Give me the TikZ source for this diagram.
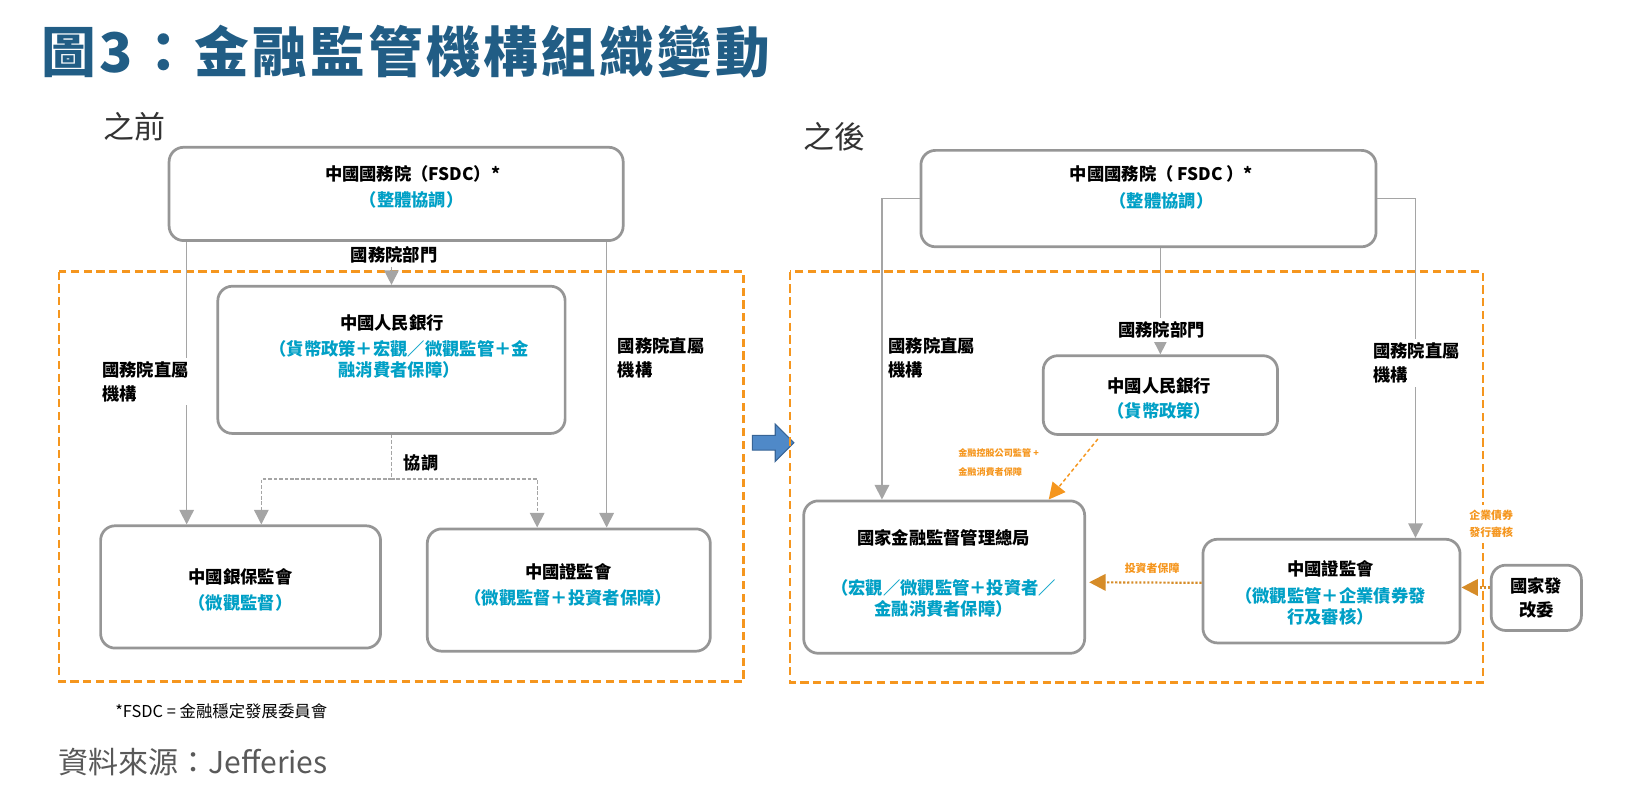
\documentclass[tikz,border=0pt]{standalone}
\usepackage{fontspec}
\setmainfont{Noto Sans CJK TC}
\newfontfamily\titlefont[LetterSpace=6]{Noto Sans CJK TC}
\usepackage{tikz}
\usetikzlibrary{calc, positioning, arrows.meta, shapes.arrows}
\usepackage{xcolor}
\definecolor{titleblue}{RGB}{33, 93, 133}
\definecolor{subcyan}{RGB}{0, 160, 198}
\definecolor{boxgray}{RGB}{150, 150, 150}
\definecolor{linegray}{RGB}{165, 165, 165}
\definecolor{frameorange}{RGB}{245, 150, 30}
\definecolor{darkorange}{RGB}{214, 140, 40}
\definecolor{arrowblue}{RGB}{79, 137, 200}
\definecolor{arrowblueD}{RGB}{55, 100, 150}

\begin{document}
\begin{tikzpicture}[x=0.02cm, y=-0.02cm,
  box/.style={draw=boxgray, line width=1.5pt, rounded corners=8pt, fill=white},
  head/.style={font=\fontsize{9.5}{11.5}\selectfont\bfseries, align=center},
  sub/.style={font=\fontsize{9.5}{11.5}\selectfont\bfseries, text=subcyan, align=center},
  lbl/.style={font=\fontsize{9.5}{13}\selectfont\bfseries, align=left, inner sep=2pt},
  tinylbl/.style={font=\fontsize{5}{10.8}\selectfont\bfseries, text=frameorange, align=left, inner sep=1pt},
  conn/.style={draw=linegray, line width=0.8pt, -{Triangle[width=8pt,length=8pt]}},
  coordline/.style={draw=linegray, line width=0.7pt, dash pattern=on 2pt off 1pt, -{Triangle[width=8pt,length=8pt]}},
  frame/.style={draw=frameorange, line width=1.4pt, dash pattern=on 4.5pt off 2.5pt},
  orgarrow/.style={draw=frameorange, line width=0.8pt, dash pattern=on 2pt off 1.5pt, -{Triangle[width=9pt,length=9pt]}},
  orgdot/.style={draw=darkorange, line width=1.2pt, dash pattern=on 1.2pt off 1pt, -{Triangle[width=9pt,length=9pt]}}]
  \useasboundingbox (0,0) rectangle (1568,774);

  % title
  \node[anchor=west, inner sep=0, text=titleblue, font=\titlefont\fontsize{30}{30}\selectfont\bfseries] (title) at (40,50) {圖3：金融監管機構組織變動};

  % before
  \node[font=\fontsize{17}{17}\selectfont, text=black!80] (before) at (130,122) {之前};
  \draw[frame] (57,262) rectangle (717,657);
  \node[box, minimum width=8.76cm, minimum height=1.8cm] (fsdcL) at (382,187) {};
  \node[head] at (398,168) {中國國務院（FSDC）*};
  \node[sub] at (397,193) {（整體協調）};
  \node[box, minimum width=6.7cm, minimum height=2.84cm] (pbocL) at (377.5,347) {};
  \node[head] at (378,311) {中國人民銀行};
  \node[sub] at (385,347) {（貨幣政策＋宏觀／微觀監管＋金\\融消費者保障）};
  \node[box, minimum width=5.4cm, minimum height=2.36cm] (cbirc) at (232,566) {};
  \node[head] at (232,556) {中國銀保監會};
  \node[sub] at (232,581) {（微觀監督）};
  \node[box, minimum width=5.46cm, minimum height=2.36cm] (csrcL) at (548.5,569) {};
  \node[head] at (548,551) {中國證監會};
  \node[sub] at (548,577) {（微觀監督＋投資者保障）};

  \node[lbl] (deptL) at (380,246) {國務院部門};
  \draw[conn] (pbocL.north |- deptL.south) -- (pbocL.north);
  \coordinate (srcL1) at (180,233);
  \coordinate (srcL2) at (585,233);
  \draw[conn] (srcL1) -- (srcL1 |- cbirc.north);
  \draw[conn] (srcL2) -- (srcL2 |- csrcL.north);
  \node[lbl, fill=white, anchor=east] (directL1) at (186,368) {國務院直屬\\機構};
  \node[lbl, anchor=west] (directL2) at (592,345) {國務院直屬\\機構};
  \coordinate (splitL) at (252,462);
  \coordinate (splitR) at (518,462);
  \draw[coordline] (pbocL.south) |- (splitL) -- (splitL |- cbirc.north);
  \draw[coordline] (pbocL.south) |- (splitR) -- (splitR |- csrcL.north);
  \node[lbl] (coordL) at (406,446) {協調};

  % shift arrow
  \node[single arrow, draw=arrowblueD, fill=arrowblue, line width=0.6pt, minimum height=0.8cm, minimum width=0.72cm, single arrow head extend=2pt, inner sep=1pt] (shift) at (742,427) {};

  % after
  \node[font=\fontsize{17}{17}\selectfont, text=black!80] (after) at (805,132) {之後};
  \draw[frame] (762,262) rectangle (1430,658);
  \node[box, minimum width=8.78cm, minimum height=1.86cm] (fsdcR) at (1107.5,191.5) {};
  \node[head] at (1120,168) {中國國務院（ FSDC ）*};
  \node[sub] at (1120,194) {（整體協調）};
  \node[box, minimum width=4.52cm, minimum height=1.52cm] (pbocR) at (1119,381) {};
  \node[head] at (1118,372) {中國人民銀行};
  \node[sub] at (1118,396) {（貨幣政策）};
  \node[box, minimum width=5.42cm, minimum height=2.94cm] (nfra) at (910.5,556.5) {};
  \node[head] at (910,519) {國家金融監督管理總局};
  \node[sub] at (910,577.5) {（宏觀／微觀監管＋投資者／\\金融消費者保障）};
  \node[box, minimum width=4.96cm, minimum height=2cm] (csrcR) at (1284,570) {};
  \node[head] at (1283,549) {中國證監會};
  \node[sub] at (1283,584.5) {（微觀監管＋企業債券發\\行及審核）};
  \node[box, head, minimum width=1.74cm, minimum height=1.26cm, font=\fontsize{9.5}{13}\selectfont\bfseries] (ndrc) at (1481.5,576.5) {國家發\\改委};

  \draw[conn] (fsdcR.south -| pbocR.north) -- (pbocR.north);
  \node[lbl, fill=white] (deptR) at (1120,318) {國務院部門};
  \draw[conn] (fsdcR.west) -| ($(nfra.north)+(-60,0)$);
  \draw[conn] (fsdcR.east) -| ($(csrcR.north)+(81,0)$);
  \node[lbl, anchor=west] (directR1) at (853,345) {國務院直屬\\機構};
  \node[lbl, fill=white] (directR2) at (1366,350) {國務院直屬\\機構};

  \draw[orgarrow] ($(pbocR.south west)+(54,3)$) -- ($(nfra.north east)+(-36,0)$);
  \node[tinylbl, anchor=west] (holdco) at (922,446) {金融控股公司監管 +\\金融消費者保障};
  \draw[orgdot] ($(csrcR.west)+(0,-8)$) -- ($(nfra.east)+(3,5)$);
  \node[tinylbl, font=\fontsize{6}{8}\selectfont\bfseries] (investor) at (1111,548) {投資者保障};
  \node[tinylbl, fill=white, align=center, inner sep=3pt, font=\fontsize{6}{9}\selectfont\bfseries] (bond) at (1438,505) {企業債券\\發行審核};
  \draw[orgdot] ($(ndrc.west)+(0,-10)$) -- ($(ndrc.west -| csrcR.east)+(0,-10)$);

  % notes
  \node[anchor=west, font=\fontsize{9}{9}\selectfont] (note) at (105,686) {*FSDC = 金融穩定發展委員會};
  \node[anchor=west, text=black!65, font=\fontsize{16.5}{16.5}\selectfont] (source) at (50,735) {資料來源：Jefferies};
\end{tikzpicture}
\end{document}
